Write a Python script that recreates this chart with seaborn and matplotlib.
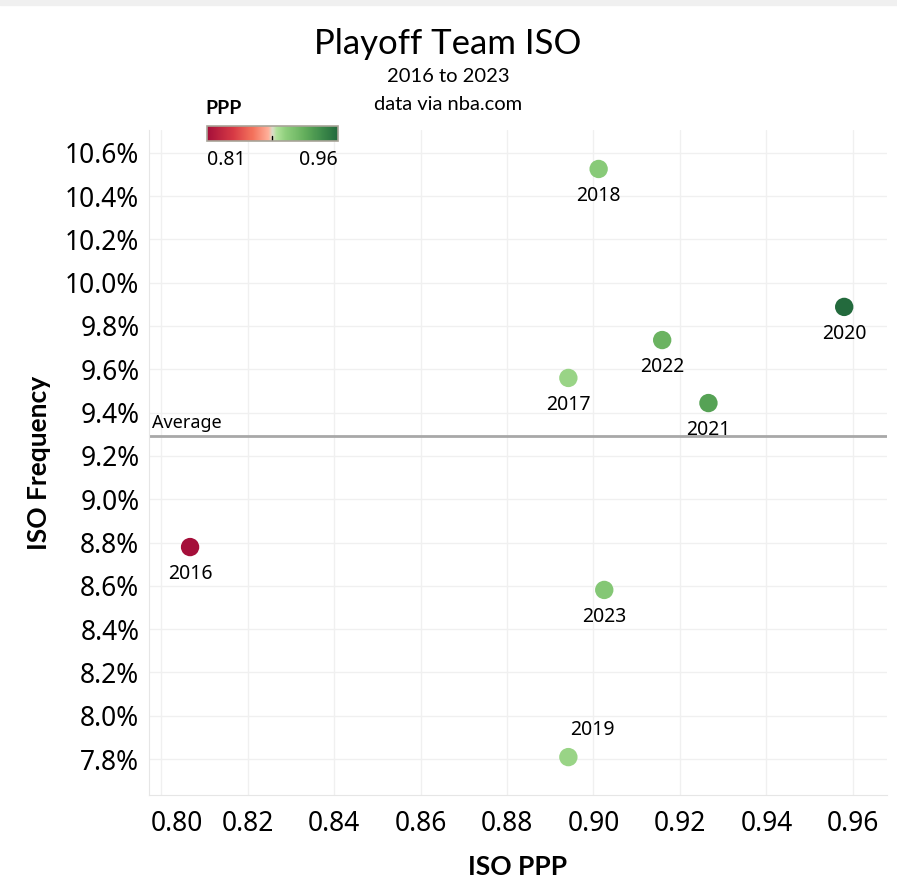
import numpy as np
import pandas as pd
import seaborn as sns
import matplotlib.pyplot as plt
from matplotlib.colors import LinearSegmentedColormap, Normalize
from matplotlib.cm import ScalarMappable
from matplotlib.patches import Rectangle
from matplotlib.transforms import ScaledTranslation

# data
seasons = ['2016', '2017', '2018', '2019', '2020', '2021', '2022', '2023']
iso_ppp = [0.8067, 0.8942, 0.9012, 0.8942, 0.9580, 0.9266, 0.9159, 0.9025]
iso_freq = [8.779, 9.560, 10.525, 7.809, 9.888, 9.444, 9.735, 8.581]
x_ticks = [0.80, 0.82, 0.84, 0.86, 0.88, 0.90, 0.92, 0.94, 0.96]
y_ticks = [7.8, 8.0, 8.2, 8.4, 8.6, 8.8, 9.0, 9.2, 9.4, 9.6, 9.8, 10.0, 10.2, 10.4, 10.6]

df = pd.DataFrame({'season': seasons, 'ppp': iso_ppp, 'freq': iso_freq})
avg_freq = df['freq'].mean()

sns.set_style('white')
plt.rcParams['font.family'] = ['Noto Sans', 'DejaVu Sans']
plt.rcParams['text.color'] = 'black'
plt.rcParams['xtick.color'] = 'black'
plt.rcParams['ytick.color'] = 'black'
plt.rcParams['axes.labelcolor'] = 'black'
lato = ['Lato', 'DejaVu Sans']

# tableau-ish red-green diverging
cmap = LinearSegmentedColormap.from_list('rdgn', [
    (0.0, '#a50f3a'), (0.2, '#d73a45'), (0.35, '#f4735c'), (0.47, '#ffb09a'),
    (0.5, '#dcdcc8'), (0.53, '#b2e29c'), (0.6, '#8fcf7d'), (0.75, '#62ad5b'),
    (0.88, '#3d8a4a'), (1.0, '#236a3d')])
norm = Normalize(vmin=min(iso_ppp), vmax=max(iso_ppp))

fig = plt.figure(figsize=(8.97, 8.85), dpi=100)
fig.patches.append(Rectangle((0, 1 - 5 / 885), 1, 5 / 885, transform=fig.transFigure,
                             color='#f0f0f0', zorder=0))
ax = fig.add_axes([149 / 897, 1 - 795 / 885, 738 / 897, 665 / 885])

sns.scatterplot(data=df, x='ppp', y='freq', hue='ppp', palette=cmap, hue_norm=norm,
                s=175, linewidth=0, legend=False, ax=ax, zorder=3)

ax.axhline(avg_freq, color='#a8a8a8', lw=2, zorder=2)
ax.annotate('Average', xy=(0.004, avg_freq), xycoords=('axes fraction', 'data'),
            xytext=(0, 3), textcoords='offset points', ha='left', va='bottom', fontsize=13)

# season labels (2019 sits above its point)
for _, r in df.iterrows():
    if r['season'] == '2019':
        off, va = (17, 12), 'bottom'
    else:
        off, va = (0, -12), 'top'
    ax.annotate(r['season'], xy=(r['ppp'], r['freq']), xytext=off, textcoords='offset points',
                ha='center', va=va, fontsize=14)

ax.set_xlim(0.7972, 0.9679)
ax.set_ylim(7.634, 10.705)
ax.set_xticks(x_ticks)
ax.set_yticks(y_ticks)
ax.set_xticklabels([f'{v:.2f}' for v in x_ticks])
ax.set_yticklabels([f'{v:.1f}%' for v in y_ticks])
ax.tick_params(axis='both', labelsize=19, length=5, color='#e6e6e6', width=1)
ax.tick_params(axis='x', pad=6)
ax.tick_params(axis='y', pad=2)
ax.grid(True, color='#f0f0f0', lw=1)
ax.set_axisbelow(True)
for side in ['top', 'right']:
    ax.spines[side].set_visible(False)
for side in ['left', 'bottom']:
    ax.spines[side].set_color('#e6e6e6')

# tableau nudges the first x label to the right
lbl = ax.get_xticklabels()[0]
lbl.set_transform(lbl.get_transform() + ScaledTranslation(0.16, 0, fig.dpi_scale_trans))

ax.set_xlabel('ISO PPP', fontsize=19, fontweight='bold', family=lato, labelpad=12)
ax.set_ylabel('ISO Frequency', fontsize=19, fontweight='bold', family=lato, labelpad=10)

# colour legend
cax = fig.add_axes([207 / 897, 1 - 141 / 885, 131 / 897, 15 / 885])
cb = fig.colorbar(ScalarMappable(norm=norm, cmap=cmap), cax=cax, orientation='horizontal')
cb.outline.set_edgecolor('#a8a498')
cb.outline.set_linewidth(1.2)
cax.set_xticks([])
cax.axvline((min(iso_ppp) + max(iso_ppp)) / 2, ymin=0, ymax=0.3, color='black', lw=1)
fig.text(205 / 897, 1 - 108 / 885, 'PPP', fontsize=14, fontweight='bold', family=lato,
         ha='left', va='center')
fig.text(207 / 897, 1 - 160 / 885, f'{min(iso_ppp):.2f}', fontsize=14, ha='left', va='center')
fig.text(338 / 897, 1 - 160 / 885, f'{max(iso_ppp):.2f}', fontsize=14, ha='right', va='center')

fig.text(448 / 897, 1 - 44 / 885, 'Playoff Team ISO', fontsize=25, ha='center', va='center',
         family=lato)
fig.text(448 / 897, 1 - 77 / 885, '2016 to 2023', fontsize=14.5, ha='center', va='center',
         family=lato)
fig.text(448 / 897, 1 - 104 / 885, 'data via nba.com', fontsize=14.5, ha='center', va='center',
         family=lato)

fig.savefig('out.png', dpi=100)
